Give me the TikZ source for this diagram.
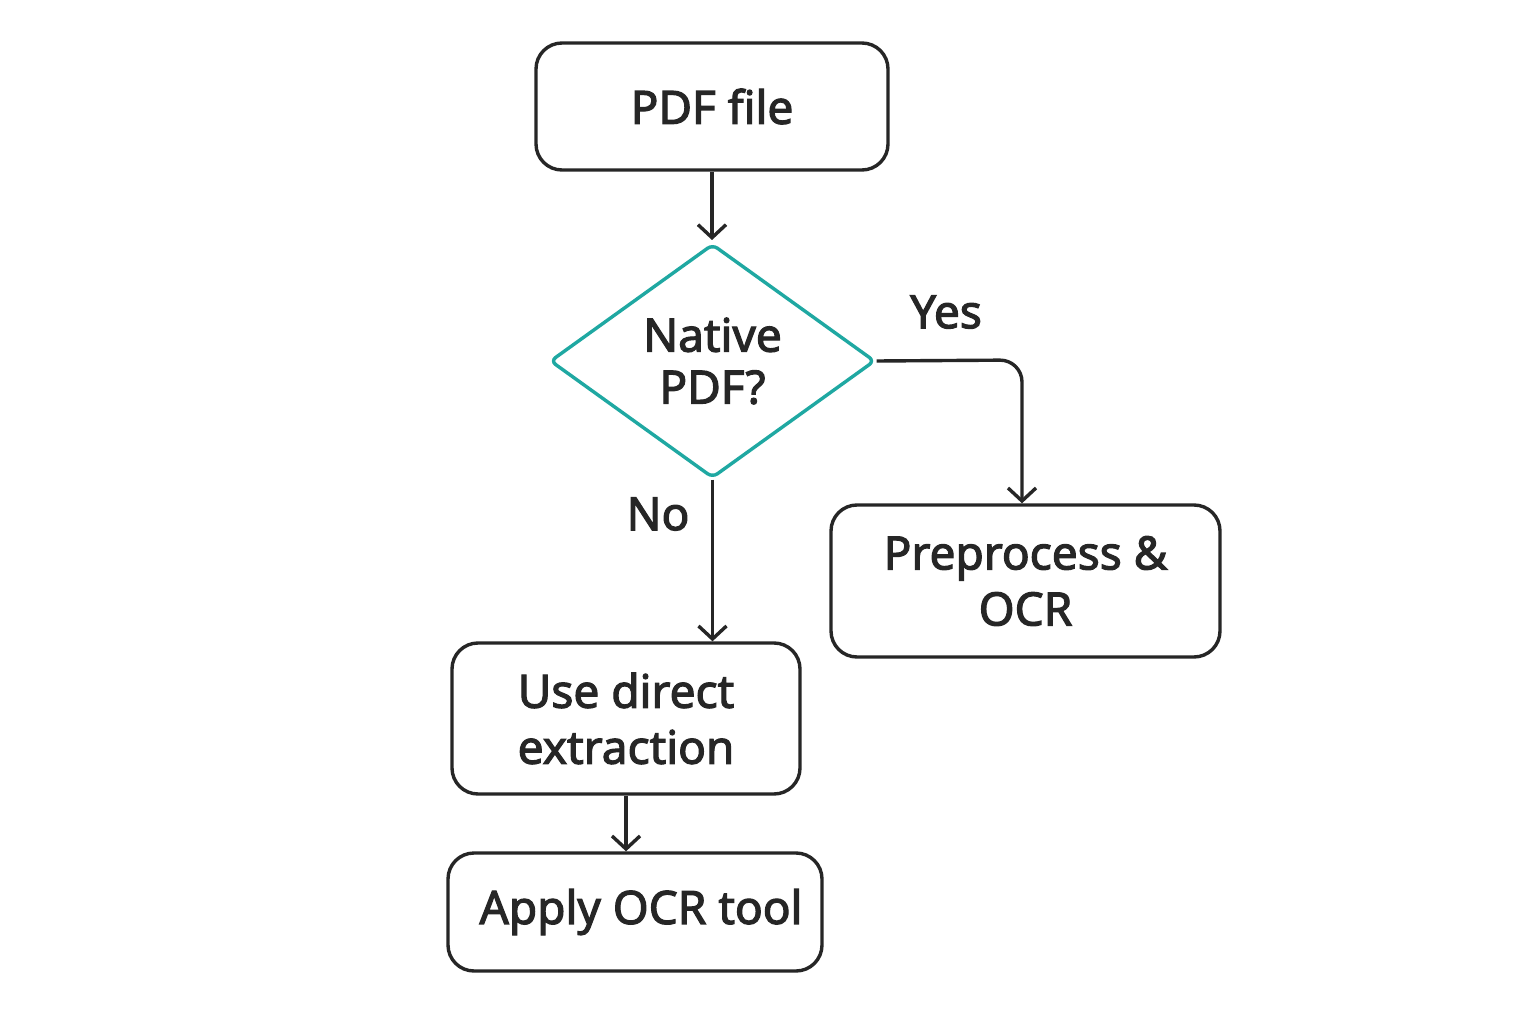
\documentclass[tikz,border=0pt]{standalone}
\usepackage{fontspec}
\setmainfont{Noto Sans}[FakeBold=2.5]
\usetikzlibrary{shapes.geometric,arrows.meta,positioning}
\definecolor{ink}{HTML}{262626}
\definecolor{teal}{HTML}{1FA8A2}
\begin{document}
\begin{tikzpicture}[x=1pt,y=-1pt,
  box/.style={draw=ink,line width=3.4pt,rounded corners=26pt,align=center,text=ink,
    font=\fontsize{46}{56}\selectfont,inner sep=0pt},
  decision/.style={draw=teal,line width=3.4pt,diamond,rounded corners=6pt,align=center,text=ink,
    font=\fontsize{46}{52}\selectfont,inner sep=0pt,aspect=1.39},
  conn/.style={draw=ink,line width=3.4pt,-{Straight Barb[length=13pt,width=28pt,line width=3.4pt]},rounded corners=22pt},
  lbl/.style={text=ink,font=\fontsize{46}{52}\selectfont,inner sep=0pt}]
\useasboundingbox[fill=white] (0,0) rectangle (1536,1024);
\node[box,minimum width=352pt,minimum height=127pt] (pdf) at (712,106.5) {PDF file};
\node[decision,minimum width=325pt,minimum height=234pt] (native) at (712.5,361) {Native\\PDF?};
\node[box,minimum width=389pt,minimum height=152pt] (prep) at (1025.5,581) {Preprocess \&\\OCR};
\node[box,minimum width=348pt,minimum height=151pt] (direct) at (626,718.5) {Use direct\\extraction};
\node[box,minimum width=374pt,minimum height=118pt] (apply) at (635,912) {\hspace*{12pt}Apply OCR tool};
\coordinate (nattop) at (712,240);
\draw[conn] (pdf.south) -- (nattop);
\draw[conn] (native.east) -- (1022,360) -- (prep.north -| 1022,0);
\draw[conn] (native.south) -- (direct.north -| native.south);
\draw[conn] (direct.south) -- (apply.north -| direct.south);
\node[lbl] (yes) at (946,312) {Yes};
\node[lbl] (no) at (658,514) {No};
\end{tikzpicture}
\end{document}
